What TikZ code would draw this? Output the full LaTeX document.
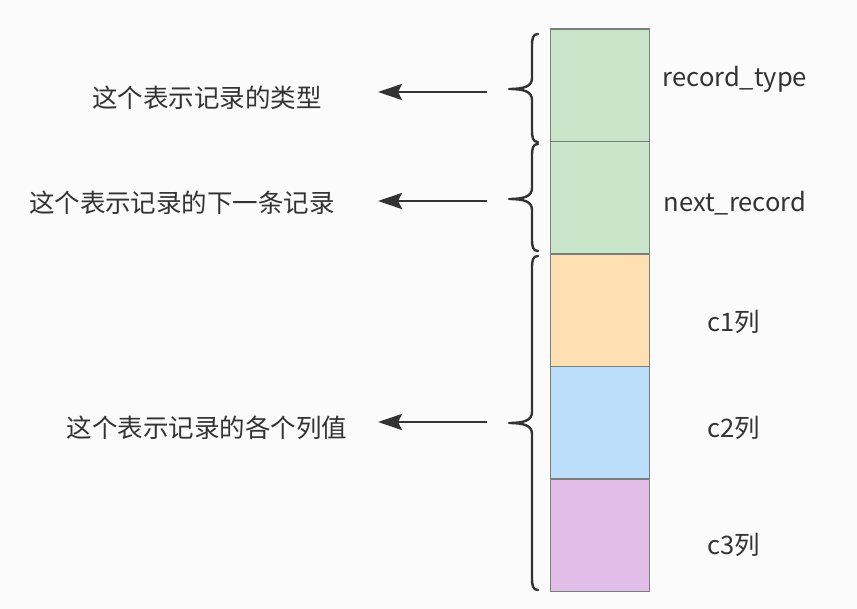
\documentclass[tikz,border=0pt]{standalone}
\usepackage{fontspec}
\setmainfont{Noto Sans CJK SC}
\usetikzlibrary{arrows.meta}
\definecolor{bg}{RGB}{251,251,251}
\definecolor{greenf}{RGB}{201,230,202}
\definecolor{orangef}{RGB}{255,224,178}
\definecolor{bluef}{RGB}{187,222,250}
\definecolor{purplef}{RGB}{225,190,231}
\definecolor{edgec}{RGB}{125,125,125}
\definecolor{ink}{RGB}{51,51,51}
\begin{document}
\begin{tikzpicture}[x=1pt,y=-1pt,
  cell/.style={draw=edgec,line width=1.3pt,minimum width=99.5pt,minimum height=112.5pt,inner sep=0pt,anchor=north west},
  lbl/.style={text=ink,font=\fontsize{25.5}{30}\selectfont,inner sep=0pt},
  arr/.style={draw=ink,line width=2.8pt,-{Stealth[length=24pt,width=16pt,inset=4pt]}},
  bracestyle/.style={draw=ink,line width=2.4pt,line cap=round,line join=round}]
\fill[bg] (0,0) rectangle (857,609);
\useasboundingbox (0,0) rectangle (857,609);
% cells
\node[cell,fill=greenf]  (b1) at (549.5,28.3) {};
\node[cell,fill=greenf]  (b2) at (549.5,140.8) {};
\node[cell,fill=orangef] (b3) at (549.5,253.3) {};
\node[cell,fill=bluef]   (b4) at (549.5,365.8) {};
\node[cell,fill=purplef] (b5) at (549.5,478.3) {};
% right labels
\node[lbl] (r1) at (735,79) {record\_type};
\node[lbl] (r2) at (735,203) {next\_record};
\node[lbl] (r3) at (734,322) {c1列};
\node[lbl] (r4) at (734,428) {c2列};
\node[lbl] (r5) at (734,545) {c3列};
% left labels
\node[lbl] (t1) at (207,98) {这个表示记录的类型};
\node[lbl] (t2) at (182,203) {这个表示记录的下一条记录};
\node[lbl] (t3) at (207,428) {这个表示记录的各个列值};
% arrows
\coordinate (s1) at (487,92);  \coordinate (e1) at (378,92);
\coordinate (s2) at (487,201); \coordinate (e2) at (378,201);
\coordinate (s3) at (487,422); \coordinate (e3) at (378,422);
\draw[arr] (s1) -- (e1);
\draw[arr] (s2) -- (e2);
\draw[arr] (s3) -- (e3);
% braces
\newcommand{\mybrace}[3]{%
  \draw[bracestyle] (538,#1) .. controls (533,#1) and (532,#1+4) .. (532,#1+12)
    -- (532,#3-11) .. controls (532,#3-3) and (525,#3) .. (509,#3)
    .. controls (525,#3) and (532,#3+3) .. (532,#3+11)
    -- (532,#2-12) .. controls (532,#2-4) and (533,#2) .. (538,#2);}
\mybrace{34}{142}{89}
\mybrace{144}{251}{199}
\mybrace{256}{590}{423}
\end{tikzpicture}
\end{document}
